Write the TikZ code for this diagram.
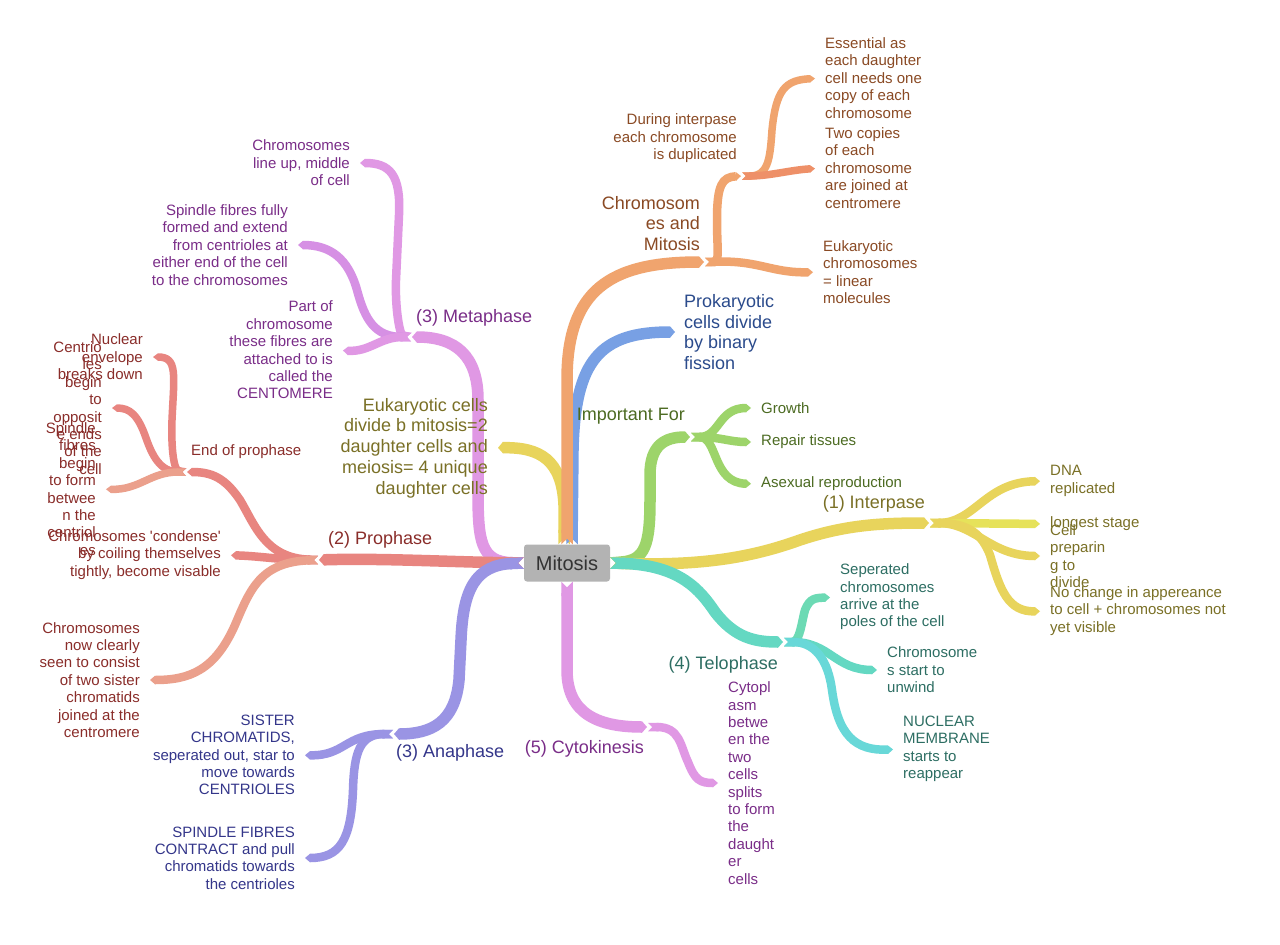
\documentclass[tikz,border=0pt]{standalone}
\usepackage{fontspec}
\setmainfont{Liberation Sans}
\usetikzlibrary{arrows.meta,positioning,backgrounds}
\definecolor{hubgray}{HTML}{B3B3B3}
\definecolor{hubtext}{HTML}{333333}
\definecolor{corange}{HTML}{F0A46E}
\definecolor{cdeep}{HTML}{EE9068}
\definecolor{cblue}{HTML}{78A0E4}
\definecolor{cyellow}{HTML}{E8D45C}
\definecolor{clime}{HTML}{E6E25A}
\definecolor{cgreen}{HTML}{9DD46A}
\definecolor{cteal}{HTML}{64D8C2}
\definecolor{cmint}{HTML}{6CDAB4}
\definecolor{ccyan}{HTML}{68D8D8}
\definecolor{cviolet}{HTML}{9A94E4}
\definecolor{cpink}{HTML}{E098E4}
\definecolor{corchid}{HTML}{D690E4}
\definecolor{cred}{HTML}{E88580}
\definecolor{csalmon}{HTML}{EBA08C}
\definecolor{chrtext}{HTML}{8A4A24}
\definecolor{protext}{HTML}{2B4B8C}
\definecolor{olivetext}{HTML}{7A7026}
\definecolor{greentext}{HTML}{4C6B22}
\definecolor{teltext}{HTML}{2D6E63}
\definecolor{anatext}{HTML}{34368A}
\definecolor{purtext}{HTML}{7A2D88}
\definecolor{redtext}{HTML}{8A2D2A}
\tikzset{
  hub/.style={rectangle, rounded corners=3pt, fill=hubgray, text=hubtext, inner sep=0pt,
              minimum width=86pt, minimum height=37pt, font=\fontsize{20}{24}\selectfont},
  leaf/.style={inner sep=0pt, font=\fontsize{15}{17.4}\selectfont},
  leafL/.style={leaf, anchor=west, align=left},
  leafR/.style={leaf, anchor=east, align=right},
  head/.style={inner sep=0pt, font=\fontsize{18}{20.7}\selectfont},
  br/.style={draw=#1, line width=8.5pt,
             {Triangle Cap[reversed]}-{Triangle[length=5pt, width=0pt 1, line width=0pt]},
             shorten >=10pt},
  trunk/.style={br=#1, line width=11.5pt, shorten >=1pt},
  mid/.style={br=#1, shorten >=1pt},
  twig/.style={br=#1, line width=7.5pt}
}
\begin{document}
\begin{tikzpicture}[x=1pt, y=-1pt]
 \useasboundingbox (0,0) rectangle (1280,945);
 \node[hub] (mit) at (567,563) {Mitosis};
 \coordinate (jchr) at (705,262);
 \coordinate (jdur) at (742,176);
 \coordinate (jmet) at (411,337);
 \coordinate (jpro) at (318,560);
 \coordinate (jend) at (186,472);
 \coordinate (jana) at (393,734);
 \coordinate (jcyt) at (648,727);
 \coordinate (jimp) at (691,437);
 \coordinate (jint) at (930,523);
 \coordinate (jtel) at (784,642);

 \node[head, text=chrtext, align=right, above left=11pt and 5pt of jchr] (chrl) {Chromosom\\es and\\Mitosis};
 \node[leaf, text=chrtext, align=right, above left=13pt and 5pt of jdur] (dur) {During interpase\\each chromosome\\is duplicated};
 \node[leafL, text=chrtext] (ess) at (825,78) {Essential as\\each daughter\\cell needs one\\copy of each\\chromosome};
 \node[leafL, text=chrtext] (two) at (825,168) {Two copies\\of each\\chromosome\\are joined at\\centromere};
 \node[leafL, text=chrtext] (euch) at (823,272) {Eukaryotic\\chromosomes\\= linear\\molecules};
 \node[head, anchor=west, align=left, text=protext] (prok) at (684,332) {Prokaryotic\\cells divide\\by binary\\fission};
 \node[head, anchor=east, align=right, text=olivetext] (euk) at (488,448) {Eukaryotic cells\\divide b mitosis=2\\daughter cells and\\meiosis= 4 unique\\daughter cells};

 \node[head, text=purtext, above right=11pt and 5pt of jmet] (metl) {(3) Metaphase};
 \node[leafR, text=purtext] (line) at (350,163) {Chromosomes\\line up, middle\\of cell};
 \node[leafR, text=purtext] (spin) at (288,245) {Spindle fibres fully\\formed and extend\\from centrioles at\\either end of the cell\\to the chromosomes};
 \node[leafR, text=purtext] (part) at (333,350) {Part of\\chromosome\\these fibres are\\attached to is\\called the\\CENTOMERE};

 \node[head, text=redtext, above right=12pt and 10pt of jpro] (prol) {(2) Prophase};
 \node[leaf, text=redtext, above right=13pt and 5pt of jend] (endl) {End of prophase};
 \node[leafR, text=redtext] (cen) at (102,408) {Centrio\\les\\begin\\to\\opposit\\e ends\\of the\\cell};
 \node[leafR, text=redtext] (nucenv) at (143,357) {Nuclear\\envelope\\breaks down};
 \node[leafR, text=redtext] (spf) at (96,489) {Spindle\\fibres\\begin\\to form\\betwee\\n the\\centriol\\es};
 \node[leafR, text=redtext] (cond) at (221,555) {Chromosomes \textquotesingle condense\textquotesingle\\by coiling themselves\\tightly, become visable};
 \node[leafR, text=redtext] (now) at (140,680) {Chromosomes\\now clearly\\seen to consist\\of two sister\\chromatids\\joined at the\\centromere};

 \node[head, text=anatext, below right=10pt and 3pt of jana] (anal) {(3) Anaphase};
 \node[leafR, text=anatext] (sis) at (295,755) {SISTER\\CHROMATIDS,\\seperated out, star to\\move towards\\CENTRIOLES};
 \node[leafR, text=anatext] (spc) at (295,858) {SPINDLE FIBRES\\CONTRACT and pull\\chromatids towards\\the centrioles};

 \node[head, text=purtext, below left=13pt and 4pt of jcyt] (cytl) {(5) Cytokinesis};
 \node[leafL, text=purtext] (cyto) at (728,783) {Cytopl\\asm\\betwe\\en the\\two\\cells\\splits\\to form\\the\\daught\\er\\cells};

 \node[head, text=greentext, above left=13pt and 6pt of jimp] (impl) {Important For};
 \node[leafL, text=greentext] (grow) at (761,408) {Growth};
 \node[leafL, text=greentext] (rep) at (761,442) {Repair tissues};
 \node[leafL, text=greentext] (asex) at (761,484) {Asexual reproduction};

 \node[head, text=olivetext, above left=11pt and 5pt of jint] (intl) {(1) Interpase};
 \node[leafL, text=olivetext] (dna) at (1050,481) {DNA\\replicated};
 \node[leafL, text=olivetext] (long) at (1050,524) {longest stage};
 \node[leafL, text=olivetext] (cell) at (1050,556) {Cell\\preparin\\g to\\divide};
 \node[leafL, text=olivetext] (noch) at (1050,611) {No change in appereance\\to cell + chromosomes not\\yet visible};

 \node[head, text=teltext, below left=14pt and 6pt of jtel] (tell) {(4) Telophase};
 \node[leafL, text=teltext] (sep) at (840,597) {Seperated\\chromosomes\\arrive at the\\poles of the cell};
 \node[leafL, text=teltext] (unw) at (887,670) {Chromosome\\s start to\\unwind};
 \node[leafL, text=teltext] (nuc) at (903,749) {NUCLEAR\\MEMBRANE\\starts to\\reappear};

 \begin{pgfonlayer}{background}
 \fill[white] (0,0) rectangle (1280,945);
 \draw[trunk=cpink] (mit.west) .. controls (480,562) and (478,540) .. (478,490) -- (478,400) .. controls (478,355) and (455,337) .. (jmet);
 \draw[trunk=cred] (mit.west) .. controls (450,562) and (380,558) .. (jpro);
 \draw[trunk=cviolet] (mit.west) .. controls (475,565) and (463,590) .. (461,640) -- (459,680) .. controls (455,722) and (432,734) .. (jana);
 \draw[trunk=cyellow, shorten >=10pt] ([xshift=-3pt]mit.north) -- (564,505) .. controls (562,460) and (540,447) .. (euk.east);
 \draw[trunk=cblue, shorten >=9pt] ([xshift=5pt]mit.north) -- (573,450) .. controls (575,360) and (600,332) .. (prok.west);
 \draw[trunk=corange] (mit.north) -- (567,380) .. controls (567,290) and (610,262) .. (jchr);
 \draw[trunk=cpink] (mit.south) -- (567,670) .. controls (567,715) and (600,727) .. (jcyt);
 \draw[trunk=cgreen] (mit.east) .. controls (645,560) and (650,545) .. (650,500) -- (650,475) .. controls (650,445) and (665,437) .. (jimp);
 \draw[trunk=cyellow] (mit.east) .. controls (700,566) and (750,558) .. (800,540) .. controls (845,525) and (880,523) .. (jint);
 \draw[trunk=cteal] (mit.east) .. controls (680,565) and (700,590) .. (715,612) .. controls (735,638) and (755,642) .. (jtel);

 \draw[mid=corange] (jchr) .. controls (720,262) and (717,250) .. (717,220) .. controls (717,185) and (722,177) .. (jdur);
 \draw[br=corange] (jchr) .. controls (760,260) and (770,273) .. (euch.west);
 \draw[twig=corange] (jdur) .. controls (768,176) and (770,160) .. (772,130) .. controls (776,90) and (785,80) .. (ess.west);
 \draw[twig=cdeep] (jdur) .. controls (770,176) and (790,170) .. (two.west);

 \draw[br=cpink] (jmet) .. controls (400,335) and (395,310) .. (396,280) -- (399,215) .. controls (401,175) and (390,163) .. (line.east);
 \draw[br=corchid] (jmet) .. controls (375,337) and (365,320) .. (357,290) .. controls (348,258) and (330,245) .. (spin.east);
 \draw[br=cpink] (jmet) .. controls (380,337) and (370,352) .. (part.east);

 \draw[mid=cred] (jpro) .. controls (265,558) and (255,525) .. (240,500) .. controls (225,478) and (212,472) .. (jend);
 \draw[br=cred] (jpro) .. controls (280,560) and (260,556) .. (cond.east);
 \draw[br=csalmon] (jpro) .. controls (260,562) and (250,590) .. (235,625) .. controls (215,670) and (190,680) .. (now.east);
 \draw[twig=cred] (jend) .. controls (174,470) and (171,450) .. (172,420) .. controls (174,375) and (178,357) .. (nucenv.east);
 \draw[twig=cred] (jend) .. controls (160,472) and (152,455) .. (146,438) .. controls (138,415) and (130,408) .. (cen.east);
 \draw[twig=csalmon] (jend) .. controls (150,472) and (140,490) .. (spf.east);

 \draw[br=cviolet] (jana) .. controls (345,734) and (345,756) .. (sis.east);
 \draw[br=cviolet] (jana) .. controls (360,734) and (354,752) .. (353,790) .. controls (351,840) and (340,858) .. (spc.east);

 \draw[br=cpink] (jcyt) .. controls (680,727) and (680,745) .. (688,762) .. controls (695,780) and (700,783) .. (cyto.west);

 \draw[br=cgreen] (jimp) .. controls (720,437) and (718,408) .. (grow.west);
 \draw[br=cgreen] (jimp) .. controls (720,437) and (730,442) .. (rep.west);
 \draw[br=cgreen] (jimp) .. controls (718,437) and (712,483) .. (asex.west);

 \draw[br=cyellow] (jint) .. controls (975,523) and (985,482) .. (dna.west);
 \draw[br=clime] (jint) -- (long.west);
 \draw[br=cyellow] (jint) .. controls (975,523) and (990,556) .. (cell.west);
 \draw[br=cyellow] (jint) .. controls (970,523) and (982,535) .. (990,555) .. controls (1000,590) and (1008,612) .. (noch.west);

 \draw[br=cmint] (jtel) .. controls (800,642) and (802,620) .. (805,610) .. controls (810,598) and (815,598) .. (sep.west);
 \draw[br=cteal] (jtel) .. controls (830,642) and (835,670) .. (unw.west);
 \draw[br=ccyan] (jtel) .. controls (815,642) and (828,660) .. (832,690) .. controls (838,735) and (855,751) .. (nuc.west);
 \end{pgfonlayer}
\end{tikzpicture}
\end{document}
